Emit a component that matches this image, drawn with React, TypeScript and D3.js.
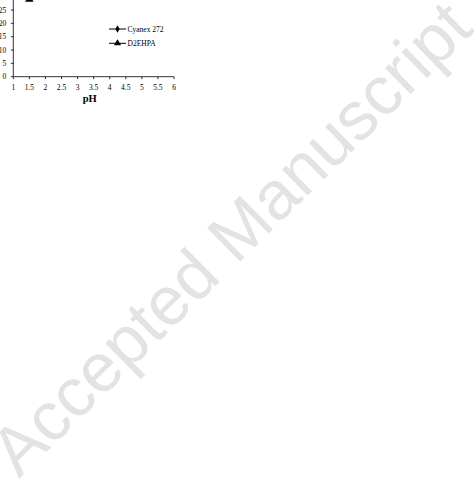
import React from "react";
import * as d3 from "d3";

const xTicks = [1, 1.5, 2, 2.5, 3, 3.5, 4, 4.5, 5, 5.5, 6];
const yTicks = [0, 5, 10, 15, 20, 25];
const seriesNames = ["Cyanex 272", "D2EHPA"];
const cyanexPH: number[] = [];
const cyanexE: number[] = [];
const d2ehpaPH = [1.5];
const d2ehpaE = [28.9];
const xLabel = "pH";
const watermark = "Accepted Manuscript";

const W = 474;
const H = 481;

export default function App() {
  const x = d3.scaleLinear().domain([1, 6]).range([13.3, 174]);
  const y = d3.scaleLinear().domain([0, 25]).range([76.7, 10.0]);
  const line = d3.line<[number, number]>().x((d) => x(d[0])).y((d) => y(d[1]));
  const cy = cyanexPH.map((p, i) => [p, cyanexE[i]] as [number, number]);
  const dh = d2ehpaPH.map((p, i) => [p, d2ehpaE[i]] as [number, number]);
  const tri = d3.symbol().type(d3.symbolTriangle).size(22)();
  const dia = d3.symbol().type(d3.symbolDiamond).size(16)();
  const serif = "'Liberation Serif', 'Times New Roman', serif";
  const lx0 = 109, lx1 = 126;
  const legendY = [29, 43.3];
  return (
    <svg width={W} height={H} style={{ position: "absolute", left: 0, top: 0 }}>
      <rect width={W} height={H} fill="#fff" />
      <text
        transform={`translate(19,479) rotate(-44.5)`}
        fontFamily="'Liberation Sans', Arial, sans-serif"
        fontSize={68.5}
        fill="#e3e3e3"
      >
        {watermark}
      </text>
      {/* axes */}
      <line x1={x(1)} x2={x(6)} y1={y(0)} y2={y(0)} stroke="#000" strokeWidth={0.8} />
      <line x1={x(1)} x2={x(1)} y1={y(0)} y2={-5} stroke="#000" strokeWidth={0.8} />
      {xTicks.map((t) => (
        <g key={"x" + t}>
          <line x1={x(t)} x2={x(t)} y1={y(0)} y2={y(0) + 2.5} stroke="#000" strokeWidth={0.8} />
          <text x={x(t)} y={y(0) + 13} textAnchor="middle" fontFamily={serif} fontSize={7.5} fill="#000">
            {t}
          </text>
        </g>
      ))}
      {yTicks.map((t) => (
        <g key={"y" + t}>
          <line x1={x(1) - 2.5} x2={x(1)} y1={y(t)} y2={y(t)} stroke="#000" strokeWidth={0.8} />
          <text x={6.3} y={y(t) + 2.6} textAnchor="end" fontFamily={serif} fontSize={7.5} fill="#000">
            {t}
          </text>
        </g>
      ))}
      <text x={(x(1) + x(6)) / 2 - 4} y={102} textAnchor="middle" fontFamily={serif} fontWeight="bold" fontSize={10.5} fill="#000">
        {xLabel}
      </text>
      {/* series */}
      <path d={line(cy) || ""} fill="none" stroke="#000" strokeWidth={1} />
      <path d={line(dh) || ""} fill="none" stroke="#000" strokeWidth={1} />
      {cy.map((d, i) => (
        <path key={"c" + i} d={dia || ""} transform={`translate(${x(d[0])},${y(d[1])})`} fill="#000" />
      ))}
      {dh.map((d, i) => (
        <path key={"d" + i} d={tri || ""} transform={`translate(${x(d[0])},${y(d[1])}) scale(1.2,1)`} fill="#000" />
      ))}
      {/* legend */}
      {seriesNames.map((n, i) => (
        <g key={n}>
          <line x1={lx0} x2={lx1} y1={legendY[i]} y2={legendY[i]} stroke="#000" strokeWidth={1} />
          <path d={(i === 0 ? dia : tri) || ""} transform={`translate(${(lx0 + lx1) / 2},${legendY[i]})`} fill="#000" />
          <text x={lx1 + 1.5} y={legendY[i] + 2.6} fontFamily={serif} fontSize={7.5} fill="#000">
            {n}
          </text>
        </g>
      ))}
    </svg>
  );
}
